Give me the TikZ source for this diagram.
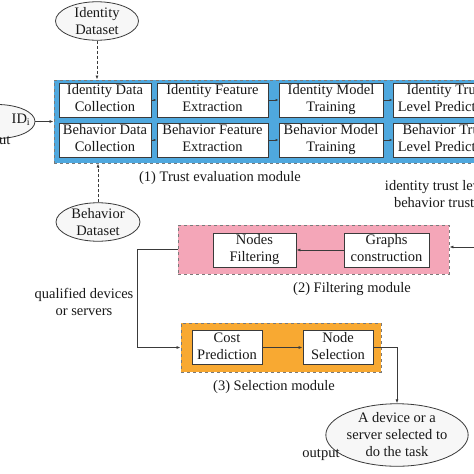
\documentclass[tikz,border=0pt]{standalone}
\usepackage{fontspec}
\setmainfont{Liberation Serif}
\usetikzlibrary{shapes.geometric,arrows.meta,positioning,calc}
\definecolor{bluemod}{HTML}{4FA8DE}
\definecolor{pinkmod}{HTML}{F4A6B8}
\definecolor{orangemod}{HTML}{F8A932}
\definecolor{linegray}{HTML}{3A3A3A}
\definecolor{dashgray}{HTML}{7A7A7A}
\newcommand{\topstrut}{\rule{0pt}{13.5pt}}
\newcommand{\botstrut}{\rule[-3.5pt]{0pt}{3.5pt}}
\begin{document}
\begin{tikzpicture}[x=1pt,y=-1pt,
  font=\fontsize{14.5}{17}\selectfont,
  every node/.style={align=center,inner sep=0pt,text=black!90},
  inbox/.style={draw=linegray,line width=0.8pt,fill=white,minimum height=34pt,
    execute at begin node=\topstrut, execute at end node=\botstrut},
  modbox/.style={draw=dashgray,dashed,line width=0.9pt},
  oval/.style={ellipse,draw=linegray,line width=0.8pt,fill=black!3},
  conn/.style={draw=linegray,line width=0.8pt,-{Latex[length=4pt,width=3pt]}},
  dconn/.style={conn,densely dashed},
  lbl/.style={}]
\useasboundingbox (0,0) rectangle (474,474);
\clip (0,0) rectangle (474,474);
\fill[white] (0,0) rectangle (474,474);

% (1) trust evaluation module
\node[modbox,fill=bluemod,minimum width=458pt,minimum height=83pt] (blue) at (283,121.5) {};
\node[inbox,minimum width=92pt] (idc) at (105,100) {Identity Data\\Collection};
\node[inbox,minimum width=92pt] (bdc) at (105,140) {Behavior Data\\Collection};
\node[inbox,minimum width=111pt] (ife) at (212.5,100) {Identity Feature\\Extraction};
\node[inbox,minimum width=111pt] (bfe) at (212.5,140) {Behavior Feature\\Extraction};
\node[inbox,minimum width=104pt] (imt) at (331,100) {Identity Model\\Training};
\node[inbox,minimum width=104pt] (bmt) at (331,140) {Behavior Model\\Training};
\node[inbox,minimum width=106pt] (itl) at (446,100) {Identity Trust\\Level Prediction};
\node[inbox,minimum width=106pt] (btl) at (446,140) {Behavior Trust\\Level Prediction};
\foreach \a/\b in {idc/ife,ife/imt,imt/itl,bdc/bfe,bfe/bmt,bmt/btl}
  \draw[conn,-{Latex[length=3pt,width=2.5pt]}] (\a) -- (\b);
\node[lbl] (m1) at (220,178) {(1) Trust evaluation module};

% datasets
\node[oval,minimum width=83pt,minimum height=36pt] (iddata) at (97,21) {Identity\\Dataset};
\node[oval,minimum width=84pt,minimum height=34pt] (bdata) at (98,222) {Behavior\\Dataset};
\draw[dconn] (iddata.south) -- (iddata.south |- blue.north);
\draw[dconn] (bdata.north) -- (bdata.north |- blue.south);

% input
\node[oval,minimum width=76pt,minimum height=34pt] (idi) at (-3,121.5) {};
\node (iditext) at (21,120) {ID\textsubscript{i}};
\node[lbl] (inlbl) at (-5,141) {Input};
\draw[conn] (idi) -- (blue.west);

% trust level label
\node[lbl] (tl) at (450,194) {identity trust level and\\behavior trust level};

% (2) filtering module
\node[modbox,fill=pinkmod,minimum width=271pt,minimum height=49pt] (pink) at (313.5,249.5) {};
\node[inbox,minimum width=83pt] (nf) at (254.5,250) {Nodes\\Filtering};
\node[inbox,minimum width=85pt] (gc) at (386.5,250) {Graphs\\construction};
\draw[conn] (gc) -- (nf);
\coordinate (rin) at (480,247);
\draw[conn] (rin) -- (rin -| pink.east);
\node[lbl] (m2) at (352,289) {(2) Filtering module};

% (3) selection module
\node[modbox,fill=orangemod,minimum width=200pt,minimum height=49pt] (orange) at (281,347.5) {};
\node[inbox,minimum width=70pt] (cp) at (227,347.5) {Cost\\Prediction};
\node[inbox,minimum width=70pt] (ns) at (338,347.5) {Node\\Selection};
\draw[conn] (cp) -- (ns);
\node[lbl] (m3) at (274,387) {(3) Selection module};

% qualified connector
\coordinate (qa) at (137,249.5);
\draw[conn] (pink.west) -- (qa) |- (orange.west);
\node[lbl] (ql) at (84,302) {qualified devices\\or servers};

% output
\node[oval,minimum width=115pt,minimum height=57pt] (out) at (397,435) {A device or a\\server selected to\\do the task};
\draw[conn] (ns.east) -| (out.north);
\node[lbl] (ol) at (321,455) {output};
\end{tikzpicture}
\end{document}
